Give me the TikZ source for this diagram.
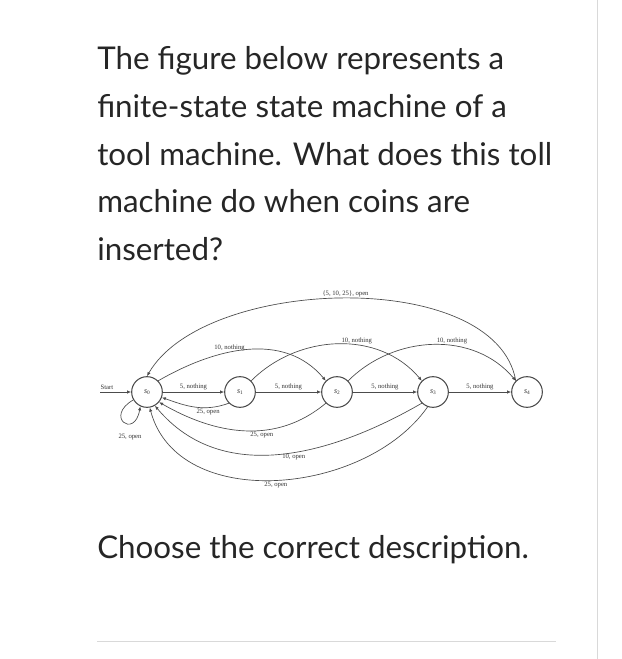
\documentclass[tikz,border=0pt]{standalone}
\usepackage{fontspec}
\setmainfont{Lato}
\newfontfamily\dfont{Liberation Serif}
\usetikzlibrary{arrows.meta}
\newcommand{\sn}[1]{\textit{s}\raisebox{-1pt}{\fontsize{4}{5}\selectfont #1}}
\begin{document}
\begin{tikzpicture}[x=0.75pt,y=-0.75pt,
  stt/.style={circle,draw=black!70,line width=0.8pt,minimum size=23pt,inner sep=0pt,font=\dfont\fontsize{6}{7}\selectfont,text=black!80},
  ed/.style={draw=black!70,line width=0.5pt,-{Latex[length=3pt,width=2.5pt]}},
  lb/.style={font=\dfont\fontsize{5}{6}\selectfont,text=black!80,inner sep=1pt},
  qt/.style={anchor=base west,inner sep=0pt,font=\fontsize{23.5}{28}\selectfont,text=black!85}]
\fill[white] (0,0) rectangle (621,659);
\useasboundingbox (0,0) rectangle (621,659);
\draw[black!15] (597,0) -- (597,659);
\draw[black!15] (97,641) -- (556,641);
\node[qt] (q1) at (97,70) {The figure below represents a};
\node[qt] (q2) at (97,118) {finite-state state machine of a};
\node[qt] (q3) at (97,166) {tool machine. What does this toll};
\node[qt] (q4) at (97,213) {machine do when coins are};
\node[qt] (q5) at (97,260) {inserted?};
\node[qt] (q6) at (97,558) {Choose the correct description.};

\node[stt] (s0) at (147,392) {\sn{0}};
\node[stt] (s1) at (240,392) {\sn{1}};
\node[stt] (s2) at (337,392) {\sn{2}};
\node[stt] (s3) at (433,392) {\sn{3}};
\node[stt] (s4) at (527,392) {\sn{4}};
\coordinate (st) at (100,392);
\node[lb,anchor=south west] (stl) at (99,391) {Start};
\draw[ed] (st) -- (s0);
\draw[ed] (s0) -- node[lb,above]{5, nothing} (s1);
\draw[ed] (s1) -- node[lb,above]{5, nothing} (s2);
\draw[ed] (s2) -- node[lb,above]{5, nothing} (s3);
\draw[ed] (s3) -- node[lb,above]{5, nothing} (s4);
\draw[ed] (s1.south west) to[out=200,in=-20] node[lb,below,pos=0.3]{25, open} (s0.-20);
\draw[ed] (s0.north east) to[out=30,in=130] node[lb,above,pos=0.4]{10, nothing} (s2.north west);
\draw[ed] (s1.north east) to[out=45,in=130] node[lb,above,pos=0.6]{10, nothing} (s3.north west);
\draw[ed] (s2.north east) to[out=45,in=130] node[lb,above,pos=0.6]{10, nothing} (s4.north west);
\draw[ed] (s4.north west) to[out=100,in=60,looseness=0.8] node[lb,above,pos=0.5]{\{5, 10, 25\}, open} (s0.north);
\draw[ed] (s2.south west) to[out=220,in=-30] node[lb,below,pos=0.4]{25, open} (s0.-40);
\draw[ed] (s3.south west) to[out=210,in=-50] node[lb,below,pos=0.45]{10, open} (s0.-60);
\draw[ed] (s3.-110) to[out=235,in=-75] node[lb,below,pos=0.5]{25, open} (s0.-80);
\draw[ed] (s0.-150) to[out=-150,in=-100,looseness=9] (s0.-115);
\node[lb] (ll) at (130,437) {25, open};
\end{tikzpicture}
\end{document}
